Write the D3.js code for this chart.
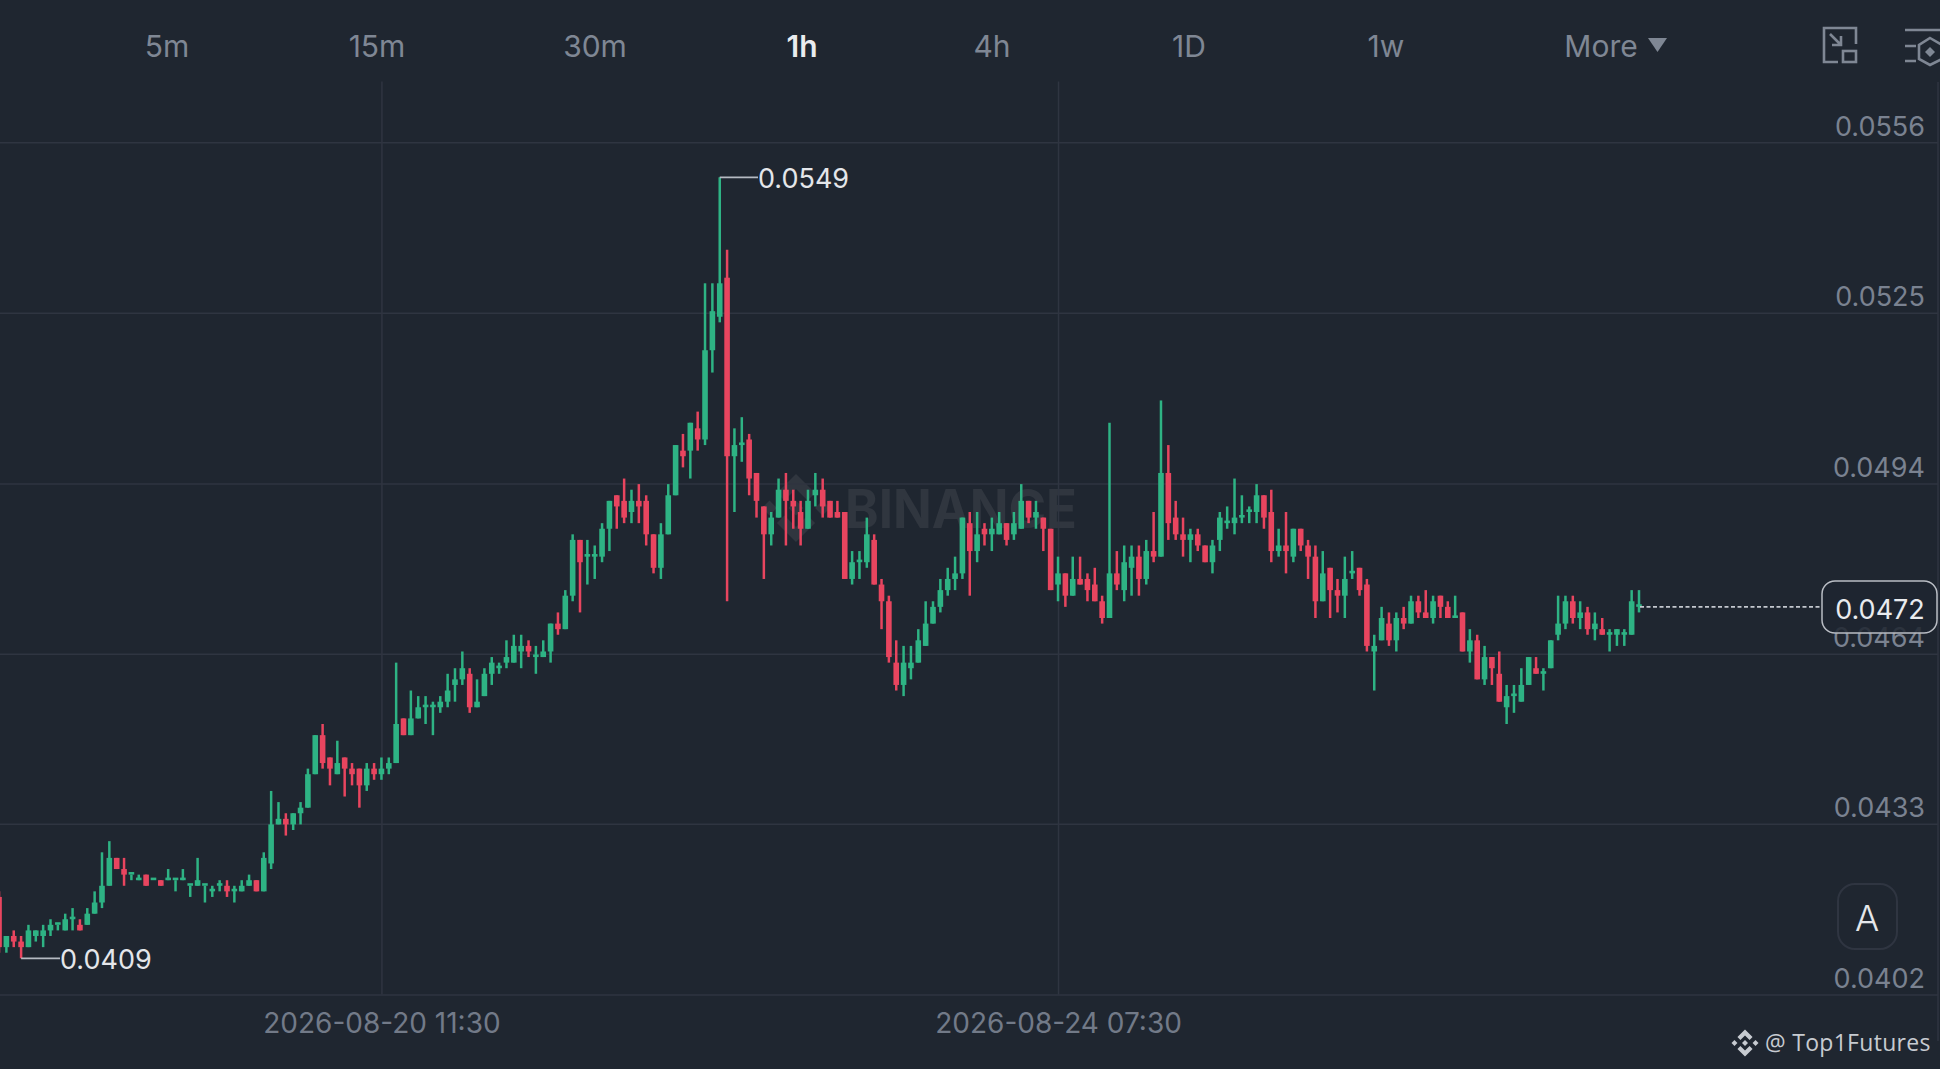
<!DOCTYPE html>
<html>
<head>
<meta charset="utf-8">
<title>1h candles</title>
<script src="https://cdn.jsdelivr.net/npm/d3@7"></script>
<style>
	html, body { margin: 0; padding: 0; background: #1f2630; overflow: hidden; }
	svg { display: block; }
	text { font-family: Inter, "Noto Sans", sans-serif; }
</style>
</head>
<body>
<div id="chart"></div>
<script>
const opens = [
	420,411,413,412,411,413,413,414,415,414,
	416,415,415,417,419,422,427,425,424,423,
	424,423,423,423,423,423,422,422,422,421,
	422,422,421,421,422,423,421,426,433,434,
	433,435,436,442,449,445,442,445,443,443,
	440,443,442,443,444,452,449,452,454,454,
	454,455,458,459,460,454,456,460,461,462,
	462,464,465,463,463,464,469,468,474,484,
	481,481,481,486,492,491,489,491,491,485,
	479,485,492,500,500,504,502,518,524,531,
	499,501,502,496,490,485,488,493,491,489,
	486,492,493,491,489,489,477,480,480,484,
	476,473,462,458,461,462,465,469,472,475,
	477,478,487,482,486,485,485,487,485,486,
	491,488,488,486,476,478,474,477,477,476,
	473,470,478,475,479,481,477,482,481,496,
	488,485,484,485,483,480,484,487,487,488,
	489,489,492,489,482,483,481,486,483,481,
	473,479,475,474,478,479,476,464,466,469,
	466,470,469,473,471,470,474,472,470,471,
	464,466,459,463,460,454,456,455,458,461,
	460,461,467,469,473,470,471,468,468,467,
	467,467,467,472
];
const highs = [
	421,413,414,413,415,414,415,416,415,417,
	418,416,418,421,428,430,427,427,424,424,
	424,423,423,425,423,425,422,427,422,422,
	423,423,422,423,424,423,428,439,437,435,
	435,437,443,449,451,445,448,445,444,443,
	444,444,445,445,462,452,457,456,456,455,
	456,460,461,464,461,459,461,463,462,466,
	467,467,466,465,466,469,471,475,485,484,
	484,483,487,491,492,495,493,494,492,485,
	487,494,501,503,505,507,530,530,549,536,
	504,506,503,496,490,489,495,496,493,491,
	493,496,495,491,491,489,482,482,488,485,
	477,474,466,465,465,468,473,473,477,479,
	481,488,489,489,487,488,489,487,489,494,
	491,491,488,486,481,478,481,481,478,479,
	474,505,482,483,483,483,484,489,509,501,
	491,488,486,486,483,484,489,490,495,492,
	490,494,492,493,486,489,486,486,484,483,
	482,479,477,481,482,479,477,467,472,471,
	471,472,474,474,475,474,474,473,474,471,
	468,467,465,463,464,458,458,461,463,463,
	461,466,474,474,474,473,472,471,470,468,
	468,468,475,475
];
const lows = [
	410,410,411,409,411,412,411,413,414,414,
	414,414,415,417,418,422,425,422,423,423,
	422,423,422,423,421,423,420,422,419,420,
	421,420,419,421,422,421,421,425,433,431,
	432,433,436,442,443,440,442,438,440,436,
	439,441,441,442,444,449,449,452,451,449,
	453,454,455,458,453,454,456,458,460,461,
	462,461,463,460,463,462,467,468,473,471,
	476,477,480,482,486,487,487,487,483,478,
	477,485,492,497,495,500,501,514,523,473,
	489,498,492,488,477,483,488,483,486,483,
	486,490,488,488,488,477,476,477,479,476,
	468,462,457,456,459,462,465,469,471,474,
	475,477,474,480,483,482,485,483,484,486,
	487,486,482,475,473,472,474,476,473,473,
	469,470,475,473,474,474,476,480,481,484,
	484,481,480,482,480,478,482,486,485,487,
	487,487,486,480,481,478,480,482,477,470,
	473,470,471,470,477,474,464,457,466,465,
	464,468,469,470,470,469,470,470,470,464,
	462,459,458,458,455,451,453,455,458,460,
	457,461,466,468,469,468,467,466,467,464,
	465,465,467,471
];
const closes = [
	411,413,412,411,414,414,414,415,415,416,
	416,414,417,419,422,427,425,424,424,423,
	422,423,422,423,423,423,422,423,422,421,
	422,421,421,422,423,421,427,433,434,433,
	435,436,442,449,444,443,444,443,442,440,
	443,442,443,444,451,449,452,454,454,454,
	455,457,459,461,454,455,460,462,461,463,
	465,465,464,463,464,469,468,474,484,480,
	481,481,486,491,490,488,491,490,485,479,
	485,492,501,499,505,502,518,525,530,499,
	501,501,495,491,485,488,493,491,490,486,
	491,493,490,488,488,477,480,480,485,476,
	473,463,458,462,462,466,469,472,475,477,
	478,488,482,485,485,486,487,484,487,491,
	488,489,486,475,478,474,477,476,475,473,
	470,478,476,480,481,477,482,481,496,487,
	485,484,485,483,480,483,488,487,488,488,
	489,492,488,482,483,482,486,483,481,473,
	478,475,474,477,478,475,465,465,470,466,
	470,469,473,471,470,473,472,470,470,464,
	466,459,463,461,455,456,456,458,463,460,
	460,466,469,473,470,471,468,469,467,467,
	468,467,473,472
];

//horizontal grid lines and what the axis prints beside them
const gridPrices = [0.05553, 0.05247, 0.04941, 0.04636, 0.04331, 0.04025];
const gridLabels = ['0.0556', '0.0525', '0.0494', '0.0464', '0.0433', '0.0402'];
//vertical grid lines sit on these candles
const timeCandles = [52, 144];
const timeLabels = ['2026-08-20 11:30', '2026-08-24 07:30'];

const tabs = ['5m', '15m', '30m', '1h', '4h', '1D', '1w', 'More'];
const tabCentres = [167, 377, 595, 802, 992, 1189, 1386, 1601];
const activeTab = '1h';

const lastPrice = 0.0472;
const highLabel = '0.0549';
const lowLabel = '0.0409';

const width = 1940;
const height = 1069;
const step = 0.0001;

const bg = '#1f2630';
const gridColor = '#2f3541';
const up = '#2eb384';
const down = '#e8455f';

const svg = d3
	.select('#chart')
	.append('svg')
	.attr('width', width)
	.attr('height', height);

svg.append('rect').attr('width', width).attr('height', height).attr('fill', bg);

const x = d3.scaleLinear().domain([ 0, opens.length - 1 ]).range([ -0.97, 1639 ]);
//the high and low tags fix the price scale
const y = d3.scaleLinear().domain([ 0.0409, 0.0549 ]).range([ 958.3, 177.3 ]);

//the binance mark, half size 1
const logoParts = [
	[[0,-0.22],[0.22,0],[0,0.22],[-0.22,0]],
	[[-1,0],[-0.78,-0.22],[-0.56,0],[-0.78,0.22]],
	[[1,0],[0.78,-0.22],[0.56,0],[0.78,0.22]],
	[[0,-1],[0.56,-0.44],[0.34,-0.22],[0,-0.56],[-0.34,-0.22],[-0.56,-0.44]],
	[[0,1],[0.56,0.44],[0.34,0.22],[0,0.56],[-0.34,0.22],[-0.56,0.44]]
];

function drawLogo(cx, cy, size, color) {
	svg
		.append('g')
		.attr('transform', `translate(${cx}, ${cy}) scale(${size})`)
		.selectAll('polygon')
		.data(logoParts)
		.enter()
		.append('polygon')
		.attr('points', (d) => d.map((p) => p.join(',')).join(' '))
		.attr('fill', color);
}

//watermark goes under everything else
drawLogo(796, 508, 34, '#30363f');
svg
	.append('text')
	.attr('x', 845)
	.attr('y', 528)
	.attr('textLength', 232)
	.attr('lengthAdjust', 'spacingAndGlyphs')
	.attr('fill', '#30363f')
	.style('font-size', '53px')
	.style('font-weight', 700)
	.text('BINANCE');

//y axis, tick lines are the grid
const yAxis = svg
	.append('g')
	.attr('transform', 'translate(1938, 0)')
	.call(
		d3
			.axisLeft(y)
			.tickValues(gridPrices)
			.tickSize(1938)
			.tickFormat((d, i) => gridLabels[i])
	);
yAxis.select('.domain').remove();
yAxis.selectAll('line').attr('stroke', gridColor).attr('stroke-width', 1.5);
yAxis
	.selectAll('text')
	.attr('x', -13)
	.attr('dy', -7)
	.attr('text-anchor', 'end')
	.attr('fill', '#7a8290')
	.style('font-size', '27px');

//x axis
const xAxis = svg
	.append('g')
	.attr('transform', `translate(0, ${y(gridPrices[5])})`)
	.call(
		d3
			.axisBottom(x)
			.tickValues(timeCandles)
			.tickSize(-913)
			.tickFormat((d, i) => timeLabels[i])
	);
xAxis.select('.domain').remove();
xAxis.selectAll('line').attr('stroke', gridColor).attr('stroke-width', 1.5);
xAxis
	.selectAll('text')
	.attr('y', 19)
	.attr('dy', '0.71em')
	.attr('fill', '#727a88')
	.style('font-size', '28px');

//right border of the plot
svg
	.append('line')
	.attr('x1', 1938)
	.attr('x2', 1938)
	.attr('y1', 82)
	.attr('y2', 1041)
	.attr('stroke', gridColor)
	.attr('stroke-width', 1.5);

//candles
const candles = opens.map((o, i) => ({
	i: i,
	open: o * step,
	high: highs[i] * step,
	low: lows[i] * step,
	close: closes[i] * step
}));

const candle = svg
	.append('g')
	.selectAll('g')
	.data(candles)
	.enter()
	.append('g')
	.attr('fill', (d) => (d.close >= d.open ? up : down))
	.attr('stroke', (d) => (d.close >= d.open ? up : down));

candle
	.append('line')
	.attr('x1', (d) => x(d.i))
	.attr('x2', (d) => x(d.i))
	.attr('y1', (d) => y(d.high))
	.attr('y2', (d) => y(d.low))
	.attr('stroke-width', 2.5);

candle
	.append('rect')
	.attr('stroke', 'none')
	.attr('x', (d) => x(d.i) - 2.8)
	.attr('width', 5.6)
	.attr('y', (d) => (d.open === d.close ? y(d.close) - 2.6 : y(Math.max(d.open, d.close))))
	.attr('height', (d) => (d.open === d.close ? 2.6 : Math.abs(y(d.open) - y(d.close))));

//high and low tags
const tagColor = '#b5bac2';
const highIdx = highs.indexOf(d3.max(highs));
const lowIdx = lows.indexOf(d3.min(lows));

svg
	.append('path')
	.attr('d', `M${x(highIdx)},${y(0.0549)}H758`)
	.attr('stroke', tagColor)
	.attr('stroke-width', 1.8)
	.attr('fill', 'none');
svg
	.append('text')
	.attr('x', 758)
	.attr('y', 188)
	.attr('fill', '#e4e6ea')
	.style('font-size', '27px')
	.text(highLabel);

svg
	.append('path')
	.attr('d', `M${x(lowIdx)},${y(0.0409)}H60`)
	.attr('stroke', tagColor)
	.attr('stroke-width', 1.8)
	.attr('fill', 'none');
svg
	.append('text')
	.attr('x', 60)
	.attr('y', 969)
	.attr('fill', '#e4e6ea')
	.style('font-size', '27px')
	.text(lowLabel);

//last price
svg
	.append('line')
	.attr('x1', 1640)
	.attr('x2', 1822)
	.attr('y1', y(lastPrice))
	.attr('y2', y(lastPrice))
	.attr('stroke', '#c4c8ce')
	.attr('stroke-width', 1.8)
	.attr('stroke-dasharray', '4 2.5');
svg
	.append('rect')
	.attr('x', 1822)
	.attr('y', 581)
	.attr('width', 115)
	.attr('height', 52)
	.attr('rx', 13)
	.attr('fill', bg)
	.attr('fill-opacity', 0.85)
	.attr('stroke', '#b9bdc4')
	.attr('stroke-width', 1.5);
svg
	.append('text')
	.attr('x', 1880)
	.attr('y', 619)
	.attr('text-anchor', 'middle')
	.attr('fill', '#e9ebee')
	.style('font-size', '27px')
	.text(lastPrice.toFixed(4));

//interval tabs
svg
	.append('g')
	.selectAll('text')
	.data(tabs)
	.enter()
	.append('text')
	.attr('x', (d, i) => tabCentres[i])
	.attr('y', 57)
	.attr('text-anchor', 'middle')
	.attr('fill', (d) => (d === activeTab ? '#eaecef' : '#7f8794'))
	.style('font-size', '30px')
	.style('font-weight', (d) => (d === activeTab ? 600 : 400))
	.text((d) => d);

svg.append('path').attr('d', 'M1648,38H1667L1657.5,52Z').attr('fill', '#7f8794');

//the two icons top right
const icons = svg
	.append('g')
	.attr('fill', 'none')
	.attr('stroke', '#7f8794')
	.attr('stroke-width', 2.6);
icons.append('path').attr('d', 'M1838,62H1824V28H1856V44');
icons.append('rect').attr('x', 1843).attr('y', 51).attr('width', 13).attr('height', 11);
icons.append('path').attr('d', 'M1830,34L1841,45M1841,36V45H1832');
icons.append('path').attr('d', 'M1905,30H1940M1905,46H1916M1905,61H1916');
icons.append('path').attr('d', 'M1930,38L1942,45V59L1930,65L1919,59V45Z');
svg.append('path').attr('d', 'M1930,47L1935,52L1930,57L1925,52Z').attr('fill', '#7f8794');

//auto scale button
svg
	.append('rect')
	.attr('x', 1838)
	.attr('y', 884)
	.attr('width', 59)
	.attr('height', 65)
	.attr('rx', 17)
	.attr('fill', 'none')
	.attr('stroke', '#2f3541')
	.attr('stroke-width', 2);
svg
	.append('text')
	.attr('x', 1867)
	.attr('y', 931)
	.attr('text-anchor', 'middle')
	.attr('fill', '#e4e6ea')
	.style('font-size', '36px')
	.style('font-weight', 300)
	.text('A');

//handle at the bottom
drawLogo(1745, 1043, 13.5, '#c7cbd1');
svg
	.append('text')
	.attr('x', 1765)
	.attr('y', 1051)
	.attr('fill', '#c7cbd1')
	.style('font-family', '"Open Sans", sans-serif')
	.style('font-size', '23px')
	.style('letter-spacing', '0.3px')
	.text('@ Top1Futures');
</script>
</body>
</html>
